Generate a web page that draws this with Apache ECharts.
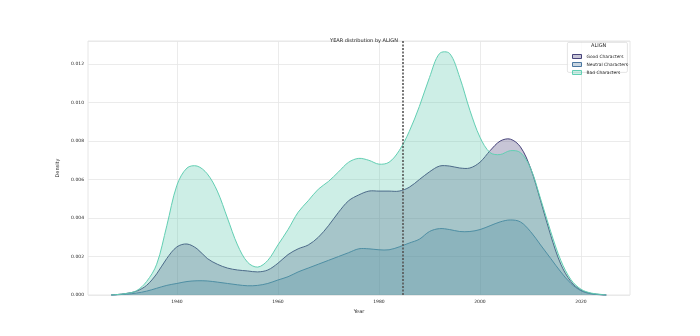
<!DOCTYPE html>
<html>
<head>
<meta charset="utf-8">
<script src="https://cdn.jsdelivr.net/npm/echarts@6/dist/echarts.min.js"></script>
<style>
  html, body { margin: 0; padding: 0; background: #ffffff; }
  #chart { width: 700px; height: 336px; }
</style>
</head>
<body>
<div id="chart"></div>
<script>
// Release years (KDE evaluation grid) and estimated densities per alignment group
const years = [1927, 1928, 1930, 1932, 1934, 1936, 1938, 1940, 1942, 1944, 1946, 1948, 1950,
  1952, 1954, 1956, 1958, 1960, 1962, 1964, 1966, 1968, 1970, 1972, 1974, 1976, 1978,
  1980, 1982, 1984, 1986, 1988, 1990, 1992, 1994, 1996, 1998, 2000, 2002, 2004, 2006,
  2008, 2010, 2012, 2014, 2016, 2018, 2020, 2022, 2024, 2025];

const goodDensity = [0, 0.00002, 0.00008, 0.0002, 0.0005, 0.0011, 0.0019, 0.0025, 0.00265,
  0.0024, 0.0019, 0.0016, 0.0014, 0.0013, 0.00125, 0.0012, 0.0013, 0.00165, 0.0021, 0.0024,
  0.0026, 0.0030, 0.0036, 0.0043, 0.0049, 0.0052, 0.0054, 0.0054, 0.0054, 0.0054, 0.0056,
  0.0060, 0.0064, 0.0067, 0.0067, 0.0066, 0.0066, 0.0069, 0.0075, 0.0080, 0.0081, 0.0077,
  0.0066, 0.0049, 0.0031, 0.0016, 0.0007, 0.00025, 0.00008, 0.00002, 0];

const neutralDensity = [0, 0.00001, 0.00004, 0.0001, 0.0002, 0.00035, 0.0005, 0.0006, 0.0007,
  0.00074, 0.00073, 0.00067, 0.0006, 0.00053, 0.00048, 0.0005, 0.0006, 0.00078, 0.00095,
  0.0012, 0.0014, 0.0016, 0.0018, 0.0020, 0.0022, 0.0024, 0.0024, 0.00235, 0.00235, 0.0025,
  0.0027, 0.0029, 0.0033, 0.00345, 0.0034, 0.0033, 0.0033, 0.0034, 0.0036, 0.0038, 0.0039,
  0.0038, 0.0033, 0.0026, 0.0019, 0.0012, 0.0006, 0.00022, 0.00006, 0.00001, 0];

const badDensity = [0, 0.00002, 0.00008, 0.00022, 0.0007, 0.0016, 0.0036, 0.0057, 0.0066,
  0.0067, 0.0063, 0.0054, 0.0040, 0.0026, 0.0017, 0.00145, 0.0018, 0.0026, 0.0034, 0.0043,
  0.0049, 0.0055, 0.0059, 0.0064, 0.0069, 0.0071, 0.0070, 0.0068, 0.0069, 0.0075, 0.0085,
  0.0098, 0.0113, 0.01255, 0.01255, 0.0113, 0.0096, 0.0082, 0.0074, 0.0073, 0.0075, 0.0074,
  0.0066, 0.0050, 0.0033, 0.0018, 0.0008, 0.0003, 0.0001, 0.00003, 0];

const xTicks = [1940, 1960, 1980, 2000, 2020];
const medianYear = 1984.8;

const groups = [
  { name: 'Good Characters',    values: goodDensity,    line: '#47437a', fill: 'rgba(70,62,120,0.30)' },
  { name: 'Neutral Characters', values: neutralDensity, line: '#4a76a0', fill: 'rgba(76,119,157,0.30)' },
  { name: 'Bad Characters',     values: badDensity,     line: '#62cfb3', fill: 'rgba(88,198,172,0.30)' }
];

const font = 'DejaVu Sans';
const SMOOTH = 0.34;
const chart = echarts.init(document.getElementById('chart'), null, { renderer: 'canvas' });

// Each density curve is one filled smooth shape plus its outline.
const series = groups.map(g => ({
  name: g.name,
  type: 'custom',
  data: years.map((y, i) => [y, g.values[i]]),
  encode: { x: 0, y: 1 },
  itemStyle: { color: g.fill, borderColor: g.line },
  renderItem: function (params, api) {
    if (params.dataIndex !== 0) return null;
    const pts = years.map((y, i) => api.coord([y, g.values[i]]));
    return {
      type: 'group',
      children: [
        { type: 'polygon', shape: { points: pts, smooth: SMOOTH },
          style: { fill: g.fill, stroke: null } },
        { type: 'polyline', shape: { points: pts, smooth: SMOOTH },
          style: { fill: null, stroke: g.line, lineWidth: 1 } }
      ]
    };
  },
  z: 3
}));

// dashed reference line
series.push({
  type: 'line',
  data: [],
  markLine: {
    silent: true,
    symbol: 'none',
    label: { show: false },
    lineStyle: { color: '#555555', type: [2, 1.5], width: 1.6 },
    data: [{ xAxis: medianYear }]
  },
  z: 5
});

chart.setOption({
  animation: false,
  backgroundColor: '#ffffff',
  title: {
    text: 'YEAR distribution by ALIGN',
    left: 359, top: 33, textAlign: 'center',
    textStyle: { fontFamily: font, fontSize: 5, fontWeight: 'normal', color: '#262626' }
  },
  grid: {
    left: 88, right: 70, top: 41, bottom: 41,
    show: true, borderColor: '#e6e6e6', borderWidth: 1, backgroundColor: 'transparent'
  },
  legend: {
    data: groups.map(g => ({
      name: g.name, icon: 'rect',
      itemStyle: { color: g.fill, borderColor: g.line, borderWidth: 1 }
    })),
    orient: 'vertical',
    left: 567, top: 49,
    itemWidth: 9, itemHeight: 4, itemGap: 3,
    textStyle: { fontFamily: font, fontSize: 4.4, color: '#262626' },
    selectedMode: false,
    z: 20
  },
  graphic: [
    { type: 'rect', left: 567, top: 42, shape: { width: 60, height: 30, r: 1.5 },
      style: { fill: 'rgba(255,255,255,0.8)', stroke: '#dddddd', lineWidth: 0.8 }, z: 10 },
    { type: 'text', left: 591, top: 43,
      style: { text: 'ALIGN', font: '5px "DejaVu Sans"', fill: '#262626' }, z: 11 }
  ],
  xAxis: {
    type: 'value', min: 1922.4, max: 2029.7,
    name: 'Year', nameLocation: 'middle', nameGap: 11,
    nameTextStyle: { fontFamily: font, fontSize: 5, color: '#262626' },
    axisLine: { show: false },
    axisTick: { show: false, customValues: xTicks },
    axisLabel: { customValues: xTicks, fontFamily: font, fontSize: 4.5, color: '#262626', margin: 4,
      formatter: v => String(v) },
    splitLine: { show: true, lineStyle: { color: '#e6e6e6', width: 0.8 } }
  },
  yAxis: {
    type: 'value', min: 0, max: 0.0132, interval: 0.002,
    name: 'Density', nameLocation: 'middle', nameGap: 20, nameRotate: 90,
    nameTextStyle: { fontFamily: font, fontSize: 5, color: '#262626' },
    axisLine: { show: false },
    axisTick: { show: false },
    axisLabel: { fontFamily: font, fontSize: 4.5, color: '#262626', margin: 4, showMaxLabel: false,
      formatter: v => v.toFixed(3) },
    splitLine: { show: true, lineStyle: { color: '#e6e6e6', width: 0.8 } }
  },
  series: series
});
</script>
</body>
</html>
